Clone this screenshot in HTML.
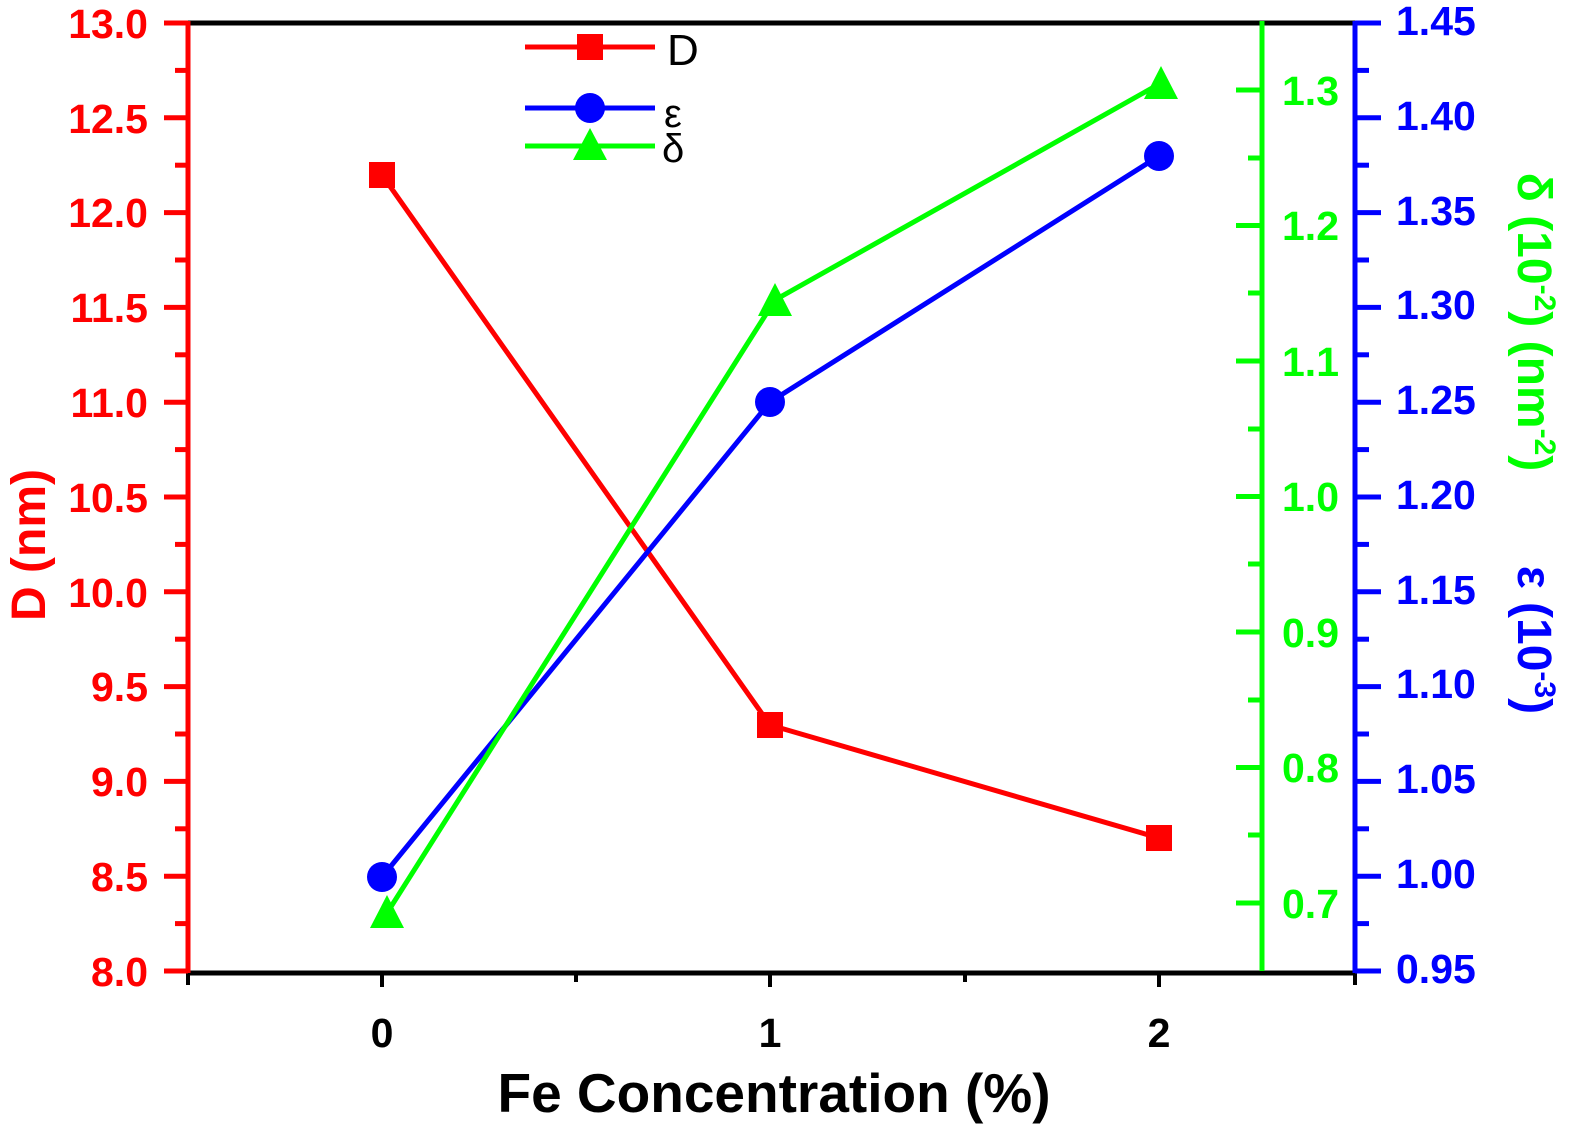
<!DOCTYPE html>
<html><head><style>body{margin:0;background:#fff}svg{display:block}text{font-family:"Liberation Sans",Arial,sans-serif;font-weight:bold}</style></head>
<body>
<svg width="1570" height="1127" viewBox="0 0 1570 1127">
<rect width="1570" height="1127" fill="#fff"/>
<line x1="188" y1="23" x2="1355" y2="23" stroke="#000" stroke-width="5"/>
<line x1="188" y1="973" x2="1355" y2="973" stroke="#000" stroke-width="5"/>
<g stroke="#000" stroke-width="4">
<line x1="188" y1="973" x2="188" y2="985"/><line x1="382" y1="973" x2="382" y2="987"/>
<line x1="576" y1="973" x2="576" y2="982"/><line x1="770" y1="973" x2="770" y2="987"/>
<line x1="965" y1="973" x2="965" y2="982"/><line x1="1159" y1="973" x2="1159" y2="987"/>
<line x1="1355" y1="973" x2="1355" y2="985"/>
</g>
<g font-size="41" fill="#000" text-anchor="middle">
<text x="382" y="1047">0</text><text x="770" y="1047">1</text><text x="1159" y="1047">2</text>
</g>
<text x="774" y="1112" font-size="55" text-anchor="middle" fill="#000">Fe Concentration (%)</text>

<g stroke="#f00" stroke-width="5">
<line x1="188" y1="21" x2="188" y2="973"/>
<line x1="164" y1="23" x2="188" y2="23"/><line x1="164" y1="117.8" x2="188" y2="117.8"/><line x1="164" y1="212.6" x2="188" y2="212.6"/><line x1="164" y1="307.4" x2="188" y2="307.4"/><line x1="164" y1="402.2" x2="188" y2="402.2"/><line x1="164" y1="497" x2="188" y2="497"/><line x1="164" y1="591.8" x2="188" y2="591.8"/><line x1="164" y1="686.6" x2="188" y2="686.6"/><line x1="164" y1="781.4" x2="188" y2="781.4"/><line x1="164" y1="876.2" x2="188" y2="876.2"/><line x1="164" y1="971" x2="188" y2="971"/>
<line x1="175" y1="70.4" x2="188" y2="70.4"/><line x1="175" y1="165.2" x2="188" y2="165.2"/><line x1="175" y1="260" x2="188" y2="260"/><line x1="175" y1="354.8" x2="188" y2="354.8"/><line x1="175" y1="449.6" x2="188" y2="449.6"/><line x1="175" y1="544.4" x2="188" y2="544.4"/><line x1="175" y1="639.2" x2="188" y2="639.2"/><line x1="175" y1="734" x2="188" y2="734"/><line x1="175" y1="828.8" x2="188" y2="828.8"/><line x1="175" y1="923.6" x2="188" y2="923.6"/>
</g>
<g font-size="41" fill="#f00" text-anchor="end">
<text x="148" y="38">13.0</text><text x="148" y="133">12.5</text><text x="148" y="227">12.0</text><text x="148" y="322">11.5</text><text x="148" y="417">11.0</text><text x="148" y="512">10.5</text><text x="148" y="607">10.0</text><text x="148" y="701">9.5</text><text x="148" y="796">9.0</text><text x="148" y="891">8.5</text><text x="148" y="986">8.0</text>
</g>
<text transform="translate(45,545) rotate(-90)" font-size="48" fill="#f00" text-anchor="middle">D (nm)</text>

<g stroke="#0f0" stroke-width="5">
<line x1="1262" y1="21" x2="1262" y2="971"/>
<line x1="1236" y1="90" x2="1262" y2="90"/><line x1="1236" y1="225.5" x2="1262" y2="225.5"/><line x1="1236" y1="361" x2="1262" y2="361"/><line x1="1236" y1="496.5" x2="1262" y2="496.5"/><line x1="1236" y1="632" x2="1262" y2="632"/><line x1="1236" y1="767.5" x2="1262" y2="767.5"/><line x1="1236" y1="903" x2="1262" y2="903"/>
<line x1="1248" y1="158" x2="1262" y2="158"/><line x1="1248" y1="293" x2="1262" y2="293"/><line x1="1248" y1="429" x2="1262" y2="429"/><line x1="1248" y1="564" x2="1262" y2="564"/><line x1="1248" y1="700" x2="1262" y2="700"/><line x1="1248" y1="835" x2="1262" y2="835"/>
</g>
<g font-size="41" fill="#0f0" text-anchor="start">
<text x="1282" y="105">1.3</text><text x="1282" y="240">1.2</text><text x="1282" y="376">1.1</text><text x="1282" y="511">1.0</text><text x="1282" y="647">0.9</text><text x="1282" y="782">0.8</text><text x="1282" y="918">0.7</text>
</g>
<text transform="translate(1518,322) rotate(90)" font-size="48" fill="#0f0" text-anchor="middle">δ (10<tspan dy="-17" font-size="30">-2</tspan><tspan dy="17">) (nm</tspan><tspan dy="-17" font-size="30">-2</tspan><tspan dy="17">)</tspan></text>

<g stroke="#00f" stroke-width="5">
<line x1="1355" y1="21" x2="1355" y2="973"/>
<line x1="1355" y1="23" x2="1381" y2="23"/><line x1="1355" y1="117.8" x2="1381" y2="117.8"/><line x1="1355" y1="212.6" x2="1381" y2="212.6"/><line x1="1355" y1="307.4" x2="1381" y2="307.4"/><line x1="1355" y1="402.2" x2="1381" y2="402.2"/><line x1="1355" y1="497" x2="1381" y2="497"/><line x1="1355" y1="591.8" x2="1381" y2="591.8"/><line x1="1355" y1="686.6" x2="1381" y2="686.6"/><line x1="1355" y1="781.4" x2="1381" y2="781.4"/><line x1="1355" y1="876.2" x2="1381" y2="876.2"/><line x1="1355" y1="971" x2="1381" y2="971"/>
<line x1="1355" y1="70.4" x2="1369" y2="70.4"/><line x1="1355" y1="165.2" x2="1369" y2="165.2"/><line x1="1355" y1="260" x2="1369" y2="260"/><line x1="1355" y1="354.8" x2="1369" y2="354.8"/><line x1="1355" y1="449.6" x2="1369" y2="449.6"/><line x1="1355" y1="544.4" x2="1369" y2="544.4"/><line x1="1355" y1="639.2" x2="1369" y2="639.2"/><line x1="1355" y1="734" x2="1369" y2="734"/><line x1="1355" y1="828.8" x2="1369" y2="828.8"/><line x1="1355" y1="923.6" x2="1369" y2="923.6"/>
</g>
<g font-size="41" fill="#00f" text-anchor="start">
<text x="1396" y="35">1.45</text><text x="1396" y="130">1.40</text><text x="1396" y="225">1.35</text><text x="1396" y="319">1.30</text><text x="1396" y="414">1.25</text><text x="1396" y="509">1.20</text><text x="1396" y="604">1.15</text><text x="1396" y="698">1.10</text><text x="1396" y="793">1.05</text><text x="1396" y="888">1.00</text><text x="1396" y="983">0.95</text>
</g>
<text transform="translate(1518,640) rotate(90)" font-size="48" fill="#00f" text-anchor="middle">ε (10<tspan dy="-17" font-size="30">-3</tspan><tspan dy="17">)</tspan></text>

<polyline points="382,175 770,725 1159,838" fill="none" stroke="#f00" stroke-width="5"/>
<polyline points="382,877 770,402 1159,156" fill="none" stroke="#00f" stroke-width="5"/>
<polyline points="387,913 775,300 1161,83" fill="none" stroke="#0f0" stroke-width="5"/>
<g fill="#f00"><rect x="369" y="162" width="26" height="26"/><rect x="757" y="712" width="26" height="26"/><rect x="1146" y="825" width="26" height="26"/></g>
<g fill="#00f"><circle cx="382" cy="877" r="15"/><circle cx="770" cy="402" r="15"/><circle cx="1159" cy="156" r="15"/></g>
<g fill="#0f0"><polygon points="387,895 404,928 370,928"/><polygon points="775,283 792,316 758,316"/><polygon points="1161,66 1178,99 1144,99"/></g>

<line x1="525" y1="47" x2="655" y2="47" stroke="#f00" stroke-width="5"/><rect x="577" y="34" width="26" height="26" fill="#f00"/>
<text x="667" y="65" font-size="44" style="font-weight:normal" fill="#000">D</text>
<line x1="525" y1="108" x2="655" y2="108" stroke="#00f" stroke-width="5"/><circle cx="590" cy="108" r="15" fill="#00f"/>
<text x="664" y="127" font-size="40" style="font-weight:normal" fill="#000">ε</text>
<line x1="525" y1="146" x2="655" y2="146" stroke="#0f0" stroke-width="5"/><polygon points="590,128 607,160 573,160" fill="#0f0"/>
<text x="662" y="162" font-size="40" style="font-weight:normal" fill="#000">δ</text>
</svg>
</body></html>
